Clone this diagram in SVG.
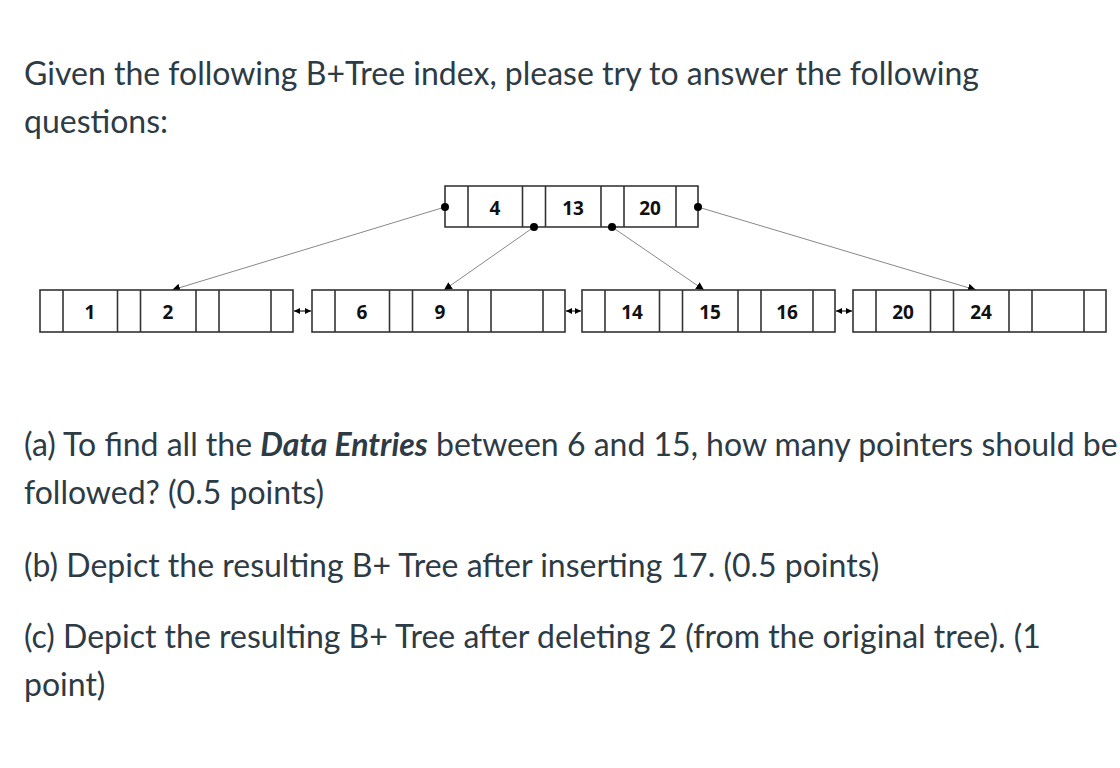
<svg xmlns="http://www.w3.org/2000/svg" width="1120" height="768" viewBox="0 0 1120 768">
<defs>
<style>
.q{font-family:Lato,"Open Sans","Liberation Sans",sans-serif;font-size:32px;fill:#2d3b45}
.box{fill:#fff;stroke:#333;stroke-width:1.6}
.div{stroke:#333;stroke-width:1.6}
.k{font-family:"Open Sans","Liberation Sans",sans-serif;font-weight:bold;font-size:19px;fill:#111;text-anchor:middle}
.c{stroke:#888;stroke-width:1;fill:none}
.dot{fill:#000}
.sib{stroke:#222;stroke-width:1.2;fill:none}
</style>
<marker id="ah" viewBox="0 0 10 10" refX="10" refY="5" markerWidth="8" markerHeight="8" orient="auto" markerUnits="userSpaceOnUse">
<path d="M0,0 L10,5 L0,10 Z" fill="#000"/>
</marker>
<marker id="sa" viewBox="0 0 10 10" refX="10" refY="5" markerWidth="6" markerHeight="6" orient="auto-start-reverse" markerUnits="userSpaceOnUse">
<path d="M0,0 L10,5 L0,10 Z" fill="#000"/>
</marker>
<g id="cells">
<rect class="box" x="0" y="0" width="253" height="42"/>
<line class="div" x1="23" y1="0" x2="23" y2="42"/>
<line class="div" x1="77.5" y1="0" x2="77.5" y2="42"/>
<line class="div" x1="100.5" y1="0" x2="100.5" y2="42"/>
<line class="div" x1="156" y1="0" x2="156" y2="42"/>
<line class="div" x1="179" y1="0" x2="179" y2="42"/>
<line class="div" x1="231" y1="0" x2="231" y2="42"/>
</g>
</defs>
<rect width="1120" height="768" fill="#fff"/>

<g id="question-intro">
<text class="q" x="24" y="85">Given the following B+Tree index, please try to answer the following</text>
<text class="q" x="24" y="133">questions:</text>
</g>

<g id="connectors">
<line class="c" x1="445" y1="207" x2="172" y2="290" marker-end="url(#ah)"/>
<line class="c" x1="534" y1="227" x2="444" y2="290" marker-end="url(#ah)"/>
<line class="c" x1="612" y1="227" x2="704" y2="290" marker-end="url(#ah)"/>
<line class="c" x1="698" y1="207" x2="976" y2="290" marker-end="url(#ah)"/>
<line class="sib" x1="294" y1="311" x2="311" y2="311" marker-start="url(#sa)" marker-end="url(#sa)"/>
<line class="sib" x1="566" y1="311" x2="581" y2="311" marker-start="url(#sa)" marker-end="url(#sa)"/>
<line class="sib" x1="836" y1="311" x2="852" y2="311" marker-start="url(#sa)" marker-end="url(#sa)"/>
</g>

<g id="root">
<use href="#cells" transform="translate(445,186) scale(1,0.976)"/>
<text class="k" x="495" y="215">4</text>
<text class="k" x="573" y="215">13</text>
<text class="k" x="650" y="215">20</text>
<circle class="dot" cx="445" cy="207" r="4"/>
<circle class="dot" cx="534" cy="227" r="4"/>
<circle class="dot" cx="612" cy="227" r="4"/>
<circle class="dot" cx="698" cy="207" r="4"/>
</g>

<g id="leaf1">
<use href="#cells" transform="translate(40,290)"/>
<text class="k" x="90" y="319">1</text>
<text class="k" x="168" y="319">2</text>
</g>

<g id="leaf2">
<use href="#cells" transform="translate(312,290)"/>
<text class="k" x="362" y="319">6</text>
<text class="k" x="440" y="319">9</text>
</g>

<g id="leaf3">
<use href="#cells" transform="translate(582,290)"/>
<text class="k" x="632" y="319">14</text>
<text class="k" x="710" y="319">15</text>
<text class="k" x="787" y="319">16</text>
</g>

<g id="leaf4">
<use href="#cells" transform="translate(853,290)"/>
<text class="k" x="903" y="319">20</text>
<text class="k" x="981" y="319">24</text>
</g>

<g id="questions">
<text class="q" x="24" y="456">(a) To find all the <tspan font-weight="bold" font-style="italic">Data Entries</tspan> between 6 and 15, how many pointers should be</text>
<text class="q" x="24" y="504">followed? (0.5 points)</text>
<text class="q" x="24" y="577">(b) Depict the resulting B+ Tree after inserting 17. (0.5 points)</text>
<text class="q" x="24" y="648">(c) Depict the resulting B+ Tree after deleting 2 (from the original tree). (1</text>
<text class="q" x="24" y="696">point)</text>
</g>
</svg>
